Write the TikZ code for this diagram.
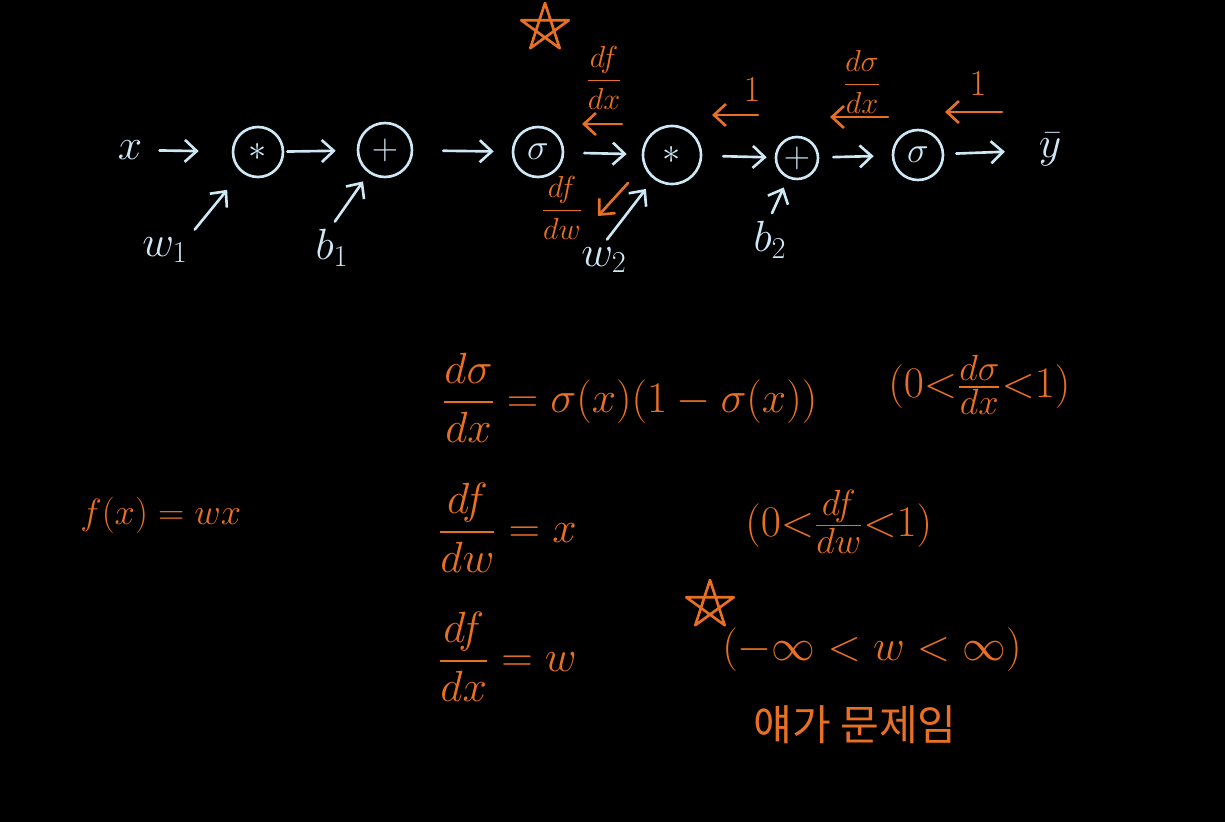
\documentclass[tikz,border=0pt]{standalone}
\usepackage{amsmath}
\usepackage{fontspec}
\newfontfamily\krfont{Noto Sans CJK KR}
\definecolor{chalkblue}{RGB}{206,232,246}
\definecolor{chalkorange}{RGB}{232,112,36}
\usetikzlibrary{positioning, arrows.meta}

\begin{document}
\begin{tikzpicture}[
	x=0.02cm, y=-0.02cm,
	op/.style={circle, draw=chalkblue, line width=1.5pt, minimum size=1cm, inner sep=0pt, text=chalkblue, font=\fontsize{22}{26}\selectfont},
	var/.style={text=chalkblue, inner sep=2pt, font=\fontsize{26}{30}\selectfont},
	grad/.style={text=chalkorange, inner sep=1pt, font=\fontsize{19}{22}\selectfont},
	eqn/.style={text=chalkorange, inner sep=0pt, anchor=west, font=\fontsize{26}{30}\selectfont},
	fwd/.style={->, draw=chalkblue, line width=1.5pt, line cap=round},
	bwd/.style={->, draw=chalkorange, line width=1.5pt, line cap=round},
	starmark/.style={minimum size=1.2cm, path picture={\draw[chalkorange, line width=1.5pt, line join=round] (path picture bounding box.center) +(90:5mm) -- +(234:5mm) -- +(18:5mm) -- +(162:5mm) -- +(306:5mm) -- cycle;}},
	>={Straight Barb[length=2.4mm, width=4.4mm]}
]

\fill[black, use as bounding box] (0,0) rectangle (1225,822);

\node[var] (x) at (130,150) {$x$};
\node[op] (mul1) at (258,152) {$*$};
\node[op, minimum size=1.08cm] (add1) at (385,150) {$+$};
\node[op] (sig1) at (538,152) {$\sigma$};
\node[op, minimum size=1.16cm] (mul2) at (672,155) {$*$};
\node[op, minimum size=0.84cm] (add2) at (797,158) {$+$};
\node[op] (sig2) at (918,155) {$\sigma$};
\node[var, font=\fontsize{30}{34}\selectfont] (yhat) at (1050,150) {$\bar{y}$};
\node[var] (w1) at (165,250) {$w_1$};
\node[var] (b1) at (332,248) {$b_1$};
\node[var] (w2) at (604,260) {$w_2$};
\node[var] (b2) at (770,240) {$b_2$};

\foreach \i/\j/\s/\e in {x/mul1/2.7/6.6, mul1/add1/0.6/4.2, add1/sig1/6/3.6, sig1/mul2/4/3, mul2/add2/4.2/1.6, add2/sig2/2.8/3.6, sig2/yhat/2.4/6}
	\draw[fwd, shorten <=\s mm, shorten >=\e mm] (\i) -- (\j);

\foreach \i/\j/\e in {w1.north east/mul1/4.5, b1.north/add1/2, w2.north/mul2/2.5, b2.north/add2/2}
	\draw[fwd, shorten <=1mm, shorten >=\e mm] (\i) -- (\j);

\node[starmark] (star1) at (545,28) {};
\node[grad] (gmul) at (604,78) {$\dfrac{df}{dx}$};
\node[grad, font=\fontsize{18}{21}\selectfont] (gw) at (562,208) {$\dfrac{df}{dw}$};
\node[grad, font=\fontsize{20}{24}\selectfont] (gadd) at (752,90) {$1$};
\node[grad] (gsig) at (862,82) {$\dfrac{d\sigma}{dx}$};
\node[grad, font=\fontsize{20}{24}\selectfont] (gout) at (978,84) {$1$};

\coordinate (gmulR) at (622,124);
\coordinate (gmulL) at (582,124);
\coordinate (gwR) at (628,183);
\coordinate (gwL) at (598,216);
\coordinate (gaddR) at (758,115);
\coordinate (gaddL) at (712,115);
\coordinate (gsigR) at (888,117);
\coordinate (gsigL) at (830,117);
\coordinate (goutR) at (1002,112);
\coordinate (goutL) at (945,112);

\foreach \i in {gmul, gw, gadd, gsig, gout}
	\draw[bwd] (\i R) -- (\i L);

\node[eqn, font=\fontsize{22}{26}\selectfont] (fx) at (80,515) {$f(x)=wx$};
\node[eqn] (dsig) at (442,398) {$\dfrac{d\sigma}{dx} = \sigma(x)(1-\sigma(x))$};
\node[eqn, font=\fontsize{30}{34}\selectfont] (dsigrange) at (888,385) {$(0{<}\frac{d\sigma}{dx}{<}1)$};
\node[eqn] (dfdw) at (438,528) {$\dfrac{df}{dw} = x$};
\node[eqn, font=\fontsize{30}{34}\selectfont] (dfdwrange) at (745,522) {$(0{<}\frac{df}{dw}{<}1)$};
\node[eqn] (dfdx) at (438,657) {$\dfrac{df}{dx} = w$};
\node[starmark] (star2) at (710,605) {};
\node[eqn, font=\fontsize{23}{27}\selectfont] (wrange) at (722,650) {$(-\infty < w < \infty)$};
\node[text=chalkorange, font=\krfont\fontsize{24}{28}\selectfont] (note) at (855,725) {얘가 문제임};

\end{tikzpicture}
\end{document}
